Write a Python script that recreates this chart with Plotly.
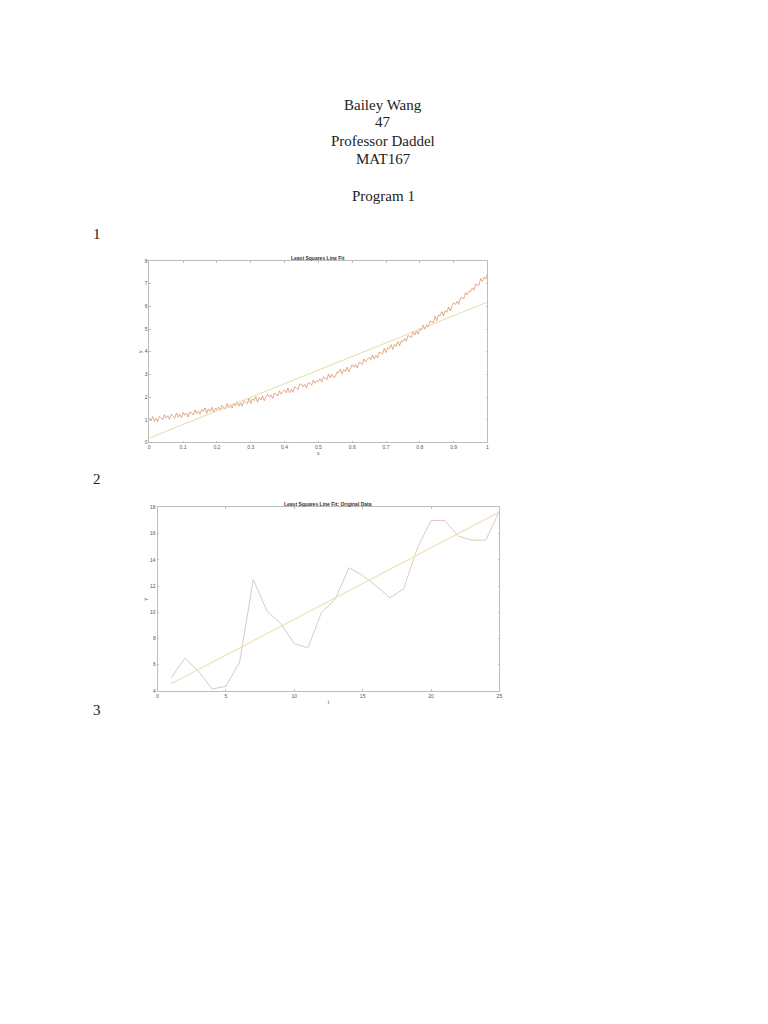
"""
Program 1 write-up page: two least squares line fit plots
"""

import plotly.graph_objects as go

# the page body adds an 8px margin, so the figure is a bit smaller than the window
OFFSET = 8
PAGE_W = 768 - OFFSET
PAGE_H = 1024 - OFFSET

# header text of the page
header_lines = ["Bailey Wang", "47", "Professor Daddel", "MAT167", "Program 1"]
header_y_px = [103, 120, 139, 157, 194]
section_labels = ["1", "2", "3"]
section_y_px = [232, 479, 711]

# plot 1: noisy samples on a 0.005 grid over [0, 1]
noisy_y = [
    1.08, 0.95, 1.14, 0.93, 1.07, 0.92, 1.15, 1.08, 1.00, 1.23,
    1.07, 1.18, 1.02, 1.24, 1.13, 1.07, 1.30, 1.12, 1.25, 1.09,
    1.33, 1.20, 1.30, 1.12, 1.34, 1.30, 1.21, 1.43, 1.27, 1.38,
    1.25, 1.45, 1.37, 1.52, 1.29, 1.48, 1.36, 1.55, 1.33, 1.51,
    1.45, 1.57, 1.41, 1.64, 1.53, 1.48, 1.71, 1.53, 1.67, 1.51,
    1.73, 1.61, 1.80, 1.60, 1.75, 1.60, 1.84, 1.78, 1.71, 1.94,
    1.72, 1.93, 1.85, 2.01, 1.78, 1.98, 1.87, 2.05, 1.84, 2.02,
    2.12, 2.00, 2.10, 1.94, 2.17, 2.14, 2.05, 2.28, 2.13, 2.24,
    2.31, 2.19, 2.39, 2.19, 2.35, 2.21, 2.45, 2.40, 2.33, 2.58,
    2.57, 2.45, 2.56, 2.40, 2.63, 2.61, 2.52, 2.76, 2.61, 2.73,
    2.68, 2.81, 2.66, 2.90, 2.81, 2.77, 3.02, 2.85, 3.00, 2.85,
    2.90, 3.12, 3.06, 3.23, 3.01, 3.22, 3.12, 3.32, 3.12, 3.32,
    3.43, 3.32, 3.44, 3.28, 3.53, 3.51, 3.44, 3.68, 3.55, 3.67,
    3.75, 3.65, 3.86, 3.68, 3.85, 3.73, 3.99, 3.95, 3.90, 4.16,
    3.96, 4.19, 4.13, 4.31, 4.10, 4.32, 4.24, 4.45, 4.26, 4.47,
    4.44, 4.59, 4.46, 4.72, 4.65, 4.62, 4.89, 4.74, 4.91, 4.78,
    5.03, 4.94, 5.17, 5.00, 5.19, 5.08, 5.35, 5.32, 5.29, 5.56,
    5.37, 5.62, 5.58, 5.77, 5.58, 5.82, 5.74, 5.97, 5.80, 6.02,
    6.16, 6.08, 6.22, 6.09, 6.37, 6.38, 6.33, 6.61, 6.50, 6.66,
    6.65, 6.81, 6.71, 6.99, 6.94, 6.94, 7.23, 7.10, 7.29, 7.20,
    7.44,
]
fit1_x = [0, 1]
fit1_y = [0.19, 6.19]

# plot 2: original data
t_vals = [1, 2, 3, 4, 5, 6, 7, 8, 9, 10, 11, 12, 13,
          14, 15, 16, 17, 18, 19, 20, 21, 22, 23, 24, 25]
y_vals = [5.0, 6.5, 5.5, 4.15, 4.35, 6.2, 12.5, 10.1, 9.15, 7.6, 7.3, 10.0, 11.0,
          13.4, 12.8, 12.0, 11.1, 11.8, 14.9, 17.0, 17.0, 15.8, 15.5, 15.5, 17.7]
fit2_t = [1, 25]
fit2_y = [4.55, 17.65]


def px_x(v):
    return (v - OFFSET) / PAGE_W


def px_y(v):
    return 1 - (v - OFFSET) / PAGE_H


AXIS_LINE = "#bdbdbd"
TICK_FONT = dict(family="Liberation Sans", size=5, color="#555555")


def axis_style(**kw):
    style = dict(
        showline=True, linecolor=AXIS_LINE, linewidth=0.7, mirror="ticks",
        ticks="inside", ticklen=2, tickcolor=AXIS_LINE, tickwidth=0.6,
        showgrid=False, zeroline=False, tickfont=TICK_FONT,
        title_font=dict(family="Liberation Sans", size=5, color="#555555"),
        fixedrange=True,
    )
    style.update(kw)
    return style


fig = go.Figure()

fig.add_trace(go.Scatter(
    y=noisy_y, x0=0, dx=0.005, mode="lines",
    line=dict(color="#d4733f", width=0.6),
    xaxis="x", yaxis="y", showlegend=False,
))
fig.add_trace(go.Scatter(
    x=fit1_x, y=fit1_y, mode="lines",
    line=dict(color="#e6dca6", width=1),
    xaxis="x", yaxis="y", showlegend=False,
))
fig.add_trace(go.Scatter(
    x=t_vals, y=y_vals, mode="lines",
    line=dict(color="#dcc9c0", width=1),
    xaxis="x2", yaxis="y2", showlegend=False,
))
fig.add_trace(go.Scatter(
    x=fit2_t, y=fit2_y, mode="lines",
    line=dict(color="#ebe2b2", width=1.2),
    xaxis="x2", yaxis="y2", showlegend=False,
))

annotations = []
for text, ypx in zip(header_lines, header_y_px):
    annotations.append(dict(
        text=text, x=px_x(384), y=px_y(ypx), xref="paper", yref="paper",
        xanchor="center", yanchor="middle", showarrow=False,
        font=dict(family="Liberation Serif", size=15, color="#222222"),
    ))
for text, ypx in zip(section_labels, section_y_px):
    annotations.append(dict(
        text=text, x=px_x(90), y=px_y(ypx), xref="paper", yref="paper",
        xanchor="left", yanchor="middle", showarrow=False,
        font=dict(family="Liberation Serif", size=15, color="#222222"),
    ))

plot_titles = ["<b>Least Squares Line Fit</b>", "<b>Least Squares Line Fit: Original Data</b>"]
plot_title_x = [px_x(319), px_x(329)]
plot_title_y = [px_y(256), px_y(504)]
for text, xp, yp in zip(plot_titles, plot_title_x, plot_title_y):
    annotations.append(dict(
        text=text, x=xp, y=yp, xref="paper", yref="paper",
        xanchor="center", yanchor="middle", showarrow=False,
        font=dict(family="Liberation Sans", size=5, color="#333333"),
    ))

fig.update_layout(
    width=PAGE_W, height=PAGE_H,
    margin=dict(l=0, r=0, t=0, b=0),
    paper_bgcolor="white", plot_bgcolor="white",
    xaxis=axis_style(domain=[px_x(149), px_x(489)], range=[0, 1], dtick=0.1,
                     anchor="y", title_text="x", title_standoff=2),
    yaxis=axis_style(domain=[px_y(442), px_y(259.5)], range=[0, 8], dtick=1,
                     anchor="x", title_text="y", title_standoff=1),
    xaxis2=axis_style(domain=[px_x(157.3), px_x(501)], range=[0, 25], dtick=5,
                      anchor="y2", title_text="t", title_standoff=2),
    yaxis2=axis_style(domain=[px_y(692), px_y(507.3)], range=[4, 18], dtick=2,
                      anchor="x2", title_text="y", title_standoff=2),
    annotations=annotations,
)

fig.write_html("out.html")
